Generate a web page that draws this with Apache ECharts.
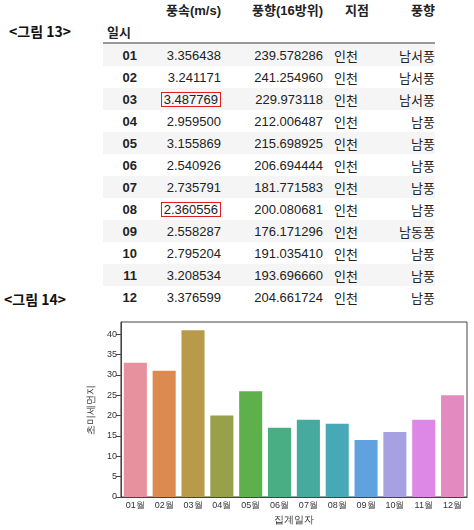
<!DOCTYPE html><html><head><meta charset="utf-8">
<script src="https://cdn.jsdelivr.net/npm/echarts@6/dist/echarts.min.js"></script>
<style>
body{margin:0;width:474px;height:530px;position:relative;background:#fff;font-family:"Noto Sans CJK KR","Noto Sans",sans-serif;overflow:hidden}
.fig{position:absolute;font-weight:bold;font-size:14px;color:#111}
table{position:absolute;left:103px;top:-2px;border-collapse:collapse;font-size:13px;color:#222;font-family:"Liberation Sans","Noto Sans CJK KR",sans-serif}
td,th{padding:0;height:22px;text-align:right}
th{font-weight:bold}
tbody tr:nth-child(odd){background:#f5f5f5}
.box{outline:1.5px solid #e02020;outline-offset:-1px;padding:0 3px}
#c{position:absolute;left:78px;top:312px;width:396px;height:218px}
</style></head><body>
<div class="fig" style="left:9px;top:21px">&lt;그림 13&gt;</div>
<div class="fig" style="left:4px;top:289px">&lt;그림 14&gt;</div>
<table id="t"><thead>
<tr><th style="width:34px"></th><th style="width:84px">풍속(m/s)</th><th style="width:102px">풍향(16방위)</th><th style="width:46px">지점</th><th style="width:66px">풍향</th></tr>
<tr style="border-bottom:2px solid #999"><th style="text-align:left;padding-left:4px">일시</th><th></th><th></th><th></th><th></th></tr>
</thead><tbody></tbody></table>
<div id="c"></div>
<script>
const months=["01","02","03","04","05","06","07","08","09","10","11","12"];
const speed=["3.356438","3.241171","3.487769","2.959500","3.155869","2.540926","2.735791","2.360556","2.558287","2.795204","3.208534","3.376599"];
const dir=["239.578286","241.254960","229.973118","212.006487","215.698925","206.694444","181.771583","200.080681","176.171296","191.035410","193.696660","204.661724"];
const site=["인천","인천","인천","인천","인천","인천","인천","인천","인천","인천","인천","인천"];
const wind=["남서풍","남서풍","남서풍","남풍","남풍","남풍","남풍","남풍","남동풍","남풍","남풍","남풍"];
const highlight=["03","08"];
const xLabels=["01월","02월","03월","04월","05월","06월","07월","08월","09월","10월","11월","12월"];
const pm25=[33,31,41,20,26,17,19,18,14,16,19,25];
const colors=["#e8919e","#dc8a4f","#b89b4a","#98a04a","#5eb04d","#4aae85","#46ab9e","#47a8b8","#5fa2dd","#a7a0e3","#dd87e6","#e38ac1"];
const tb=document.querySelector('#t tbody');
months.forEach((m,i)=>{const tr=document.createElement('tr');
const sp=highlight.includes(m)?'<span class="box">'+speed[i]+'</span>':speed[i];
tr.innerHTML='<th>'+m+'</th><td>'+sp+'</td><td>'+dir[i]+'</td><td style="text-align:center">'+site[i]+'</td><td>'+wind[i]+'</td>';tb.appendChild(tr);});
const ch=echarts.init(document.getElementById('c'));
ch.setOption({animation:false,
grid:{left:37,right:7,top:10,bottom:28,show:true,borderColor:'#444',borderWidth:1},
xAxis:{type:'category',data:xLabels,name:'집계일자',nameLocation:'middle',nameGap:18,nameTextStyle:{fontSize:10,color:'#333'},
axisLine:{lineStyle:{color:'#444'}},axisTick:{alignWithLabel:true,lineStyle:{color:'#444'}},axisLabel:{fontSize:9,color:'#333',margin:4,interval:0}},
yAxis:{type:'value',min:0,max:43,interval:5,name:'초미세먼지',nameLocation:'middle',nameGap:24,nameTextStyle:{fontSize:10,color:'#333'},
splitLine:{show:false},axisLine:{show:true,lineStyle:{color:'#444'}},axisTick:{show:true,lineStyle:{color:'#444'}},axisLabel:{fontSize:9,color:'#333',margin:4,showMaxLabel:false}},
series:[{type:'bar',data:pm25.map((v,i)=>({value:v,itemStyle:{color:colors[i]}})),barCategoryGap:'20%'}]});
</script></body></html>
